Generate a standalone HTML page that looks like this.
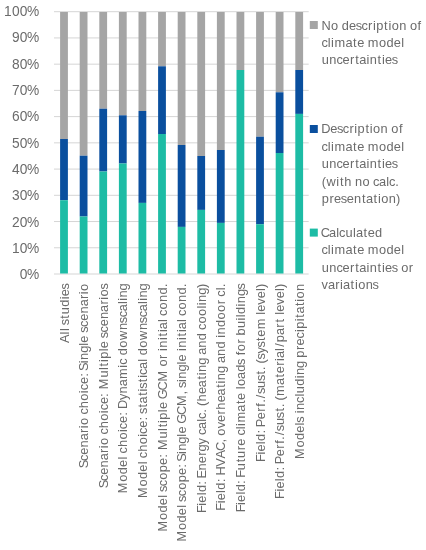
<!DOCTYPE html>
<html lang="en"><head><meta charset="utf-8"><title>Chart</title>
<style>html,body{margin:0;padding:0;background:#fff}svg{display:block}text{font-family:"Liberation Sans",sans-serif;font-size:12.8px;fill:#6b6b6b}</style></head><body>
<svg width="426" height="550" viewBox="0 0 426 550">
<rect width="426" height="550" fill="#fff"/>
<line x1="54.00" y1="11.70" x2="308.70" y2="11.70" stroke="#d5d5d5" stroke-width="1"/>
<line x1="54.00" y1="37.93" x2="308.70" y2="37.93" stroke="#d5d5d5" stroke-width="1"/>
<line x1="54.00" y1="64.16" x2="308.70" y2="64.16" stroke="#d5d5d5" stroke-width="1"/>
<line x1="54.00" y1="90.39" x2="308.70" y2="90.39" stroke="#d5d5d5" stroke-width="1"/>
<line x1="54.00" y1="116.62" x2="308.70" y2="116.62" stroke="#d5d5d5" stroke-width="1"/>
<line x1="54.00" y1="142.85" x2="308.70" y2="142.85" stroke="#d5d5d5" stroke-width="1"/>
<line x1="54.00" y1="169.08" x2="308.70" y2="169.08" stroke="#d5d5d5" stroke-width="1"/>
<line x1="54.00" y1="195.31" x2="308.70" y2="195.31" stroke="#d5d5d5" stroke-width="1"/>
<line x1="54.00" y1="221.54" x2="308.70" y2="221.54" stroke="#d5d5d5" stroke-width="1"/>
<line x1="54.00" y1="247.77" x2="308.70" y2="247.77" stroke="#d5d5d5" stroke-width="1"/>
<line x1="54.00" y1="274.00" x2="308.70" y2="274.00" stroke="#d5d5d5" stroke-width="1"/>
<rect x="60.10" y="12.00" width="7.80" height="127.00" fill="#a5a5a5"/>
<rect x="60.10" y="139.00" width="7.80" height="61.20" fill="#0a4f9e"/>
<rect x="60.10" y="200.20" width="7.80" height="73.30" fill="#1dbca5"/>
<rect x="79.70" y="12.00" width="7.80" height="143.70" fill="#a5a5a5"/>
<rect x="79.70" y="155.70" width="7.80" height="60.80" fill="#0a4f9e"/>
<rect x="79.70" y="216.50" width="7.80" height="57.00" fill="#1dbca5"/>
<rect x="99.30" y="12.00" width="7.80" height="96.70" fill="#a5a5a5"/>
<rect x="99.30" y="108.70" width="7.80" height="62.80" fill="#0a4f9e"/>
<rect x="99.30" y="171.50" width="7.80" height="102.00" fill="#1dbca5"/>
<rect x="118.90" y="12.00" width="7.80" height="103.30" fill="#a5a5a5"/>
<rect x="118.90" y="115.30" width="7.80" height="48.20" fill="#0a4f9e"/>
<rect x="118.90" y="163.50" width="7.80" height="110.00" fill="#1dbca5"/>
<rect x="138.50" y="12.00" width="7.80" height="99.00" fill="#a5a5a5"/>
<rect x="138.50" y="111.00" width="7.80" height="91.90" fill="#0a4f9e"/>
<rect x="138.50" y="202.90" width="7.80" height="70.60" fill="#1dbca5"/>
<rect x="158.10" y="12.00" width="7.80" height="54.30" fill="#a5a5a5"/>
<rect x="158.10" y="66.30" width="7.80" height="67.70" fill="#0a4f9e"/>
<rect x="158.10" y="134.00" width="7.80" height="139.50" fill="#1dbca5"/>
<rect x="177.70" y="12.00" width="7.80" height="133.00" fill="#a5a5a5"/>
<rect x="177.70" y="145.00" width="7.80" height="81.90" fill="#0a4f9e"/>
<rect x="177.70" y="226.90" width="7.80" height="46.60" fill="#1dbca5"/>
<rect x="197.30" y="12.00" width="7.80" height="144.00" fill="#a5a5a5"/>
<rect x="197.30" y="156.00" width="7.80" height="53.90" fill="#0a4f9e"/>
<rect x="197.30" y="209.90" width="7.80" height="63.60" fill="#1dbca5"/>
<rect x="216.90" y="12.00" width="7.80" height="138.00" fill="#a5a5a5"/>
<rect x="216.90" y="150.00" width="7.80" height="72.90" fill="#0a4f9e"/>
<rect x="216.90" y="222.90" width="7.80" height="50.60" fill="#1dbca5"/>
<rect x="236.50" y="12.00" width="7.80" height="58.00" fill="#a5a5a5"/>
<rect x="236.50" y="70.00" width="7.80" height="203.50" fill="#1dbca5"/>
<rect x="256.10" y="12.00" width="7.80" height="124.70" fill="#a5a5a5"/>
<rect x="256.10" y="136.70" width="7.80" height="87.50" fill="#0a4f9e"/>
<rect x="256.10" y="224.20" width="7.80" height="49.30" fill="#1dbca5"/>
<rect x="275.70" y="12.00" width="7.80" height="80.30" fill="#a5a5a5"/>
<rect x="275.70" y="92.30" width="7.80" height="60.70" fill="#0a4f9e"/>
<rect x="275.70" y="153.00" width="7.80" height="120.50" fill="#1dbca5"/>
<rect x="295.30" y="12.00" width="7.80" height="58.00" fill="#a5a5a5"/>
<rect x="295.30" y="70.00" width="7.80" height="43.90" fill="#0a4f9e"/>
<rect x="295.30" y="113.90" width="7.80" height="159.60" fill="#1dbca5"/>
<text x="4.00 11.88 19.76 26.93" y="16.15" style="font-size:13.74px">100%</text>
<text x="11.88 19.76 26.93" y="42.45" style="font-size:13.74px">90%</text>
<text x="11.88 19.76 26.93" y="68.74" style="font-size:13.74px">80%</text>
<text x="11.88 19.76 26.93" y="95.03" style="font-size:13.74px">70%</text>
<text x="11.88 19.76 26.93" y="121.33" style="font-size:13.74px">60%</text>
<text x="11.88 19.76 26.93" y="147.62" style="font-size:13.74px">50%</text>
<text x="11.88 19.76 26.93" y="173.92" style="font-size:13.74px">40%</text>
<text x="11.88 19.76 26.93" y="200.22" style="font-size:13.74px">30%</text>
<text x="11.88 19.76 26.93" y="226.51" style="font-size:13.74px">20%</text>
<text x="11.88 19.76 26.93" y="252.80" style="font-size:13.74px">10%</text>
<text x="19.76 26.93" y="279.10" style="font-size:13.74px">0%</text>
<text transform="translate(68.50,283.6) rotate(-90)" x="-59.41 -50.80 -47.53 -44.64 -41.67 -35.07 -30.72 -23.24 -15.72 -12.68 -5.99" y="0">All studies</text>
<text transform="translate(88.10,283.6) rotate(-90)" x="-184.74 -177.39 -171.19 -163.90 -156.74 -149.42 -144.59 -141.33 -134.19 -130.98 -124.59 -117.09 -109.56 -106.69 -100.49 -93.26 -89.74 -87.34 -79.59 -76.35 -69.25 -62.12 -59.08 -52.14 -49.17 -43.37 -37.17 -29.88 -22.73 -15.40 -10.57 -7.32" y="0">Scenario choice: Single scenario</text>
<text transform="translate(107.70,283.6) rotate(-90)" x="-204.77 -197.42 -191.22 -183.93 -176.78 -169.45 -164.62 -161.37 -154.22 -151.02 -144.62 -137.12 -129.59 -126.72 -120.52 -113.29 -109.77 -105.62 -94.01 -86.50 -82.83 -78.45 -75.21 -67.70 -64.65 -57.72 -54.74 -48.94 -42.74 -35.45 -28.30 -20.97 -16.15 -12.89 -5.99" y="0">Scenario choice: Multiple scenarios</text>
<text transform="translate(127.30,283.6) rotate(-90)" x="-209.72 -198.10 -190.60 -183.31 -175.99 -173.10 -169.90 -163.50 -156.00 -148.47 -145.60 -139.40 -132.17 -128.65 -125.50 -116.47 -109.86 -102.71 -95.37 -84.14 -81.27 -75.22 -71.65 -64.15 -56.36 -46.46 -39.57 -33.77 -27.71 -20.52 -17.25 -14.01 -6.91" y="0">Model choice: Dynamic downscaling</text>
<text transform="translate(146.90,283.6) rotate(-90)" x="-214.46 -202.84 -195.34 -188.05 -180.74 -177.85 -174.65 -168.25 -160.75 -153.22 -150.35 -144.15 -136.92 -133.40 -130.42 -123.83 -119.81 -112.23 -107.85 -105.21 -98.61 -94.23 -91.36 -85.30 -78.11 -75.22 -71.65 -64.15 -56.36 -46.46 -39.57 -33.77 -27.71 -20.52 -17.25 -14.01 -6.91" y="0">Model choice: statistical downscaling</text>
<text transform="translate(166.50,283.6) rotate(-90)" x="-247.98 -236.36 -228.86 -221.57 -214.25 -211.36 -208.39 -202.59 -196.18 -188.68 -181.39 -174.16 -170.64 -166.49 -154.88 -147.37 -143.70 -139.32 -136.08 -128.57 -125.52 -118.59 -115.68 -107.03 -97.85 -86.59 -83.01 -75.34 -70.89 -67.29 -64.05 -56.53 -52.86 -48.49 -45.58 -38.39 -35.50 -32.30 -25.89 -18.39 -10.90 -3.58" y="0">Model scope: Multiple GCM or initial cond.</text>
<text transform="translate(186.10,283.6) rotate(-90)" x="-257.99 -246.37 -238.87 -231.58 -224.27 -221.38 -218.40 -212.60 -206.19 -198.69 -191.40 -184.17 -180.65 -178.26 -170.50 -167.26 -160.16 -153.04 -149.99 -143.06 -140.15 -131.50 -122.32 -110.90 -107.51 -104.53 -98.33 -95.09 -87.99 -80.87 -77.83 -70.89 -67.29 -64.05 -56.53 -52.86 -48.49 -45.58 -38.39 -35.50 -32.30 -25.89 -18.39 -10.90 -3.58" y="0">Model scope: Single GCM, single initial cond.</text>
<text transform="translate(205.70,283.6) rotate(-90)" x="-229.50 -222.10 -219.06 -211.74 -208.50 -201.07 -197.55 -194.95 -187.02 -179.73 -172.28 -167.87 -160.93 -154.67 -151.47 -145.40 -138.22 -135.35 -129.11 -125.70 -122.29 -117.81 -110.52 -103.56 -95.98 -91.60 -88.36 -81.27 -74.52 -71.28 -64.12 -56.64 -49.50 -46.30 -39.89 -32.37 -24.84 -21.57 -18.33 -11.23 -4.29" y="0">Field: Energy calc. (heating and cooling)</text>
<text transform="translate(225.30,283.6) rotate(-90)" x="-227.17 -219.77 -216.73 -209.41 -206.17 -198.74 -195.22 -192.01 -183.18 -175.01 -167.45 -159.03 -155.64 -152.05 -144.72 -138.31 -130.85 -126.06 -118.77 -111.81 -104.23 -99.85 -96.61 -89.51 -82.77 -79.52 -72.37 -64.88 -57.74 -54.14 -50.90 -43.41 -35.91 -28.40 -20.73 -16.28 -13.08 -6.65 -3.58" y="0">Field: HVAC, overheating and indoor cl.</text>
<text transform="translate(244.90,283.6) rotate(-90)" x="-228.75 -221.36 -218.31 -211.00 -207.76 -200.32 -196.81 -194.05 -186.69 -178.78 -174.43 -166.77 -162.17 -155.23 -152.03 -145.61 -142.34 -138.92 -128.04 -120.46 -116.31 -109.37 -105.77 -102.52 -95.35 -88.19 -81.30 -75.48 -71.70 -67.55 -59.88 -55.43 -51.85 -44.37 -36.85 -33.58 -30.34 -22.82 -19.58 -12.49 -5.99" y="0">Field: Future climate loads for buildings</text>
<text transform="translate(264.50,283.6) rotate(-90)" x="-178.29 -170.90 -167.86 -160.54 -157.30 -149.87 -146.35 -143.55 -135.61 -128.15 -123.14 -119.17 -114.62 -110.50 -104.33 -97.44 -90.85 -86.66 -83.25 -79.83 -75.96 -69.94 -63.93 -57.34 -53.19 -45.72 -34.87 -31.26 -28.22 -21.10 -14.70 -7.38 -4.29" y="0">Field: Perf./sust. (system level)</text>
<text transform="translate(284.10,283.6) rotate(-90)" x="-215.42 -208.02 -204.98 -197.66 -194.42 -186.99 -183.47 -180.67 -172.73 -165.28 -160.26 -156.29 -151.74 -147.62 -141.45 -134.56 -127.97 -123.78 -120.37 -116.96 -112.30 -101.43 -93.85 -89.70 -82.24 -77.41 -74.50 -67.31 -63.28 -58.57 -51.41 -44.09 -38.86 -34.87 -31.26 -28.22 -21.10 -14.70 -7.38 -4.29" y="0">Field: Perf./sust. (material/part level)</text>
<text transform="translate(303.70,283.6) rotate(-90)" x="-175.53 -163.91 -156.41 -149.12 -141.81 -139.16 -133.34 -129.74 -126.50 -119.38 -112.96 -109.72 -102.23 -94.71 -91.47 -84.38 -77.63 -74.06 -66.40 -61.80 -54.88 -48.46 -45.22 -37.70 -34.04 -30.02 -22.44 -18.06 -14.80 -7.30" y="0">Models including precipitation</text>
<rect x="309.8" y="21.0" width="8" height="8" fill="#a5a5a5"/>
<text x="321.58 331.00 338.15 341.72 349.01 355.70 361.50 368.06 372.89 376.13 384.04 388.42 391.68 399.18 406.31 409.90 417.61" y="29.6">No description of</text>
<text x="321.41 327.84 331.11 334.53 345.40 352.98 357.13 364.07 367.82 379.04 386.54 393.83 401.15" y="46.9">climate model</text>
<text x="321.78 329.27 336.39 342.58 350.04 355.27 359.28 366.47 369.71 377.62 382.00 385.04 391.73" y="64.3">uncertainties</text>
<rect x="309.8" y="125.0" width="8" height="8" fill="#0a4f9e"/>
<text x="321.36 330.35 337.04 342.84 349.41 354.24 357.48 365.39 369.77 373.02 380.52 387.66 391.25 398.96" y="133.4">Description of</text>
<text x="321.41 327.84 331.11 334.53 345.40 352.98 357.13 364.07 367.82 379.04 386.54 393.83 401.15" y="150.6">climate model</text>
<text x="321.78 329.27 336.39 342.58 350.04 355.27 359.28 366.47 369.71 377.62 382.00 385.04 391.73" y="167.9">uncertainties</text>
<text x="321.63 326.39 336.32 339.99 344.33 351.47 355.04 362.54 369.69 372.90 378.96 386.15 389.02 395.25" y="185.5">(with no calc.</text>
<text x="321.78 329.44 334.04 340.73 346.70 353.99 361.90 365.92 373.50 377.88 381.14 388.64 395.97" y="202.8">presentation)</text>
<rect x="309.8" y="228.6" width="8" height="8" fill="#1dbca5"/>
<text x="320.78 329.05 336.24 339.11 345.50 353.02 355.93 363.51 367.66 374.95" y="236.6">Calculated</text>
<text x="321.41 327.84 331.11 334.53 345.40 352.98 357.13 364.07 367.82 379.04 386.54 393.83 401.15" y="254.0">climate model</text>
<text x="321.78 329.27 336.39 342.58 350.04 355.27 359.28 366.47 369.71 377.62 382.00 385.04 391.73 397.55 401.14 408.81" y="271.6">uncertainties or</text>
<text x="321.62 327.89 335.21 340.04 342.95 350.53 354.91 358.17 365.67 372.56" y="288.9">variations</text>
</svg></body></html>
